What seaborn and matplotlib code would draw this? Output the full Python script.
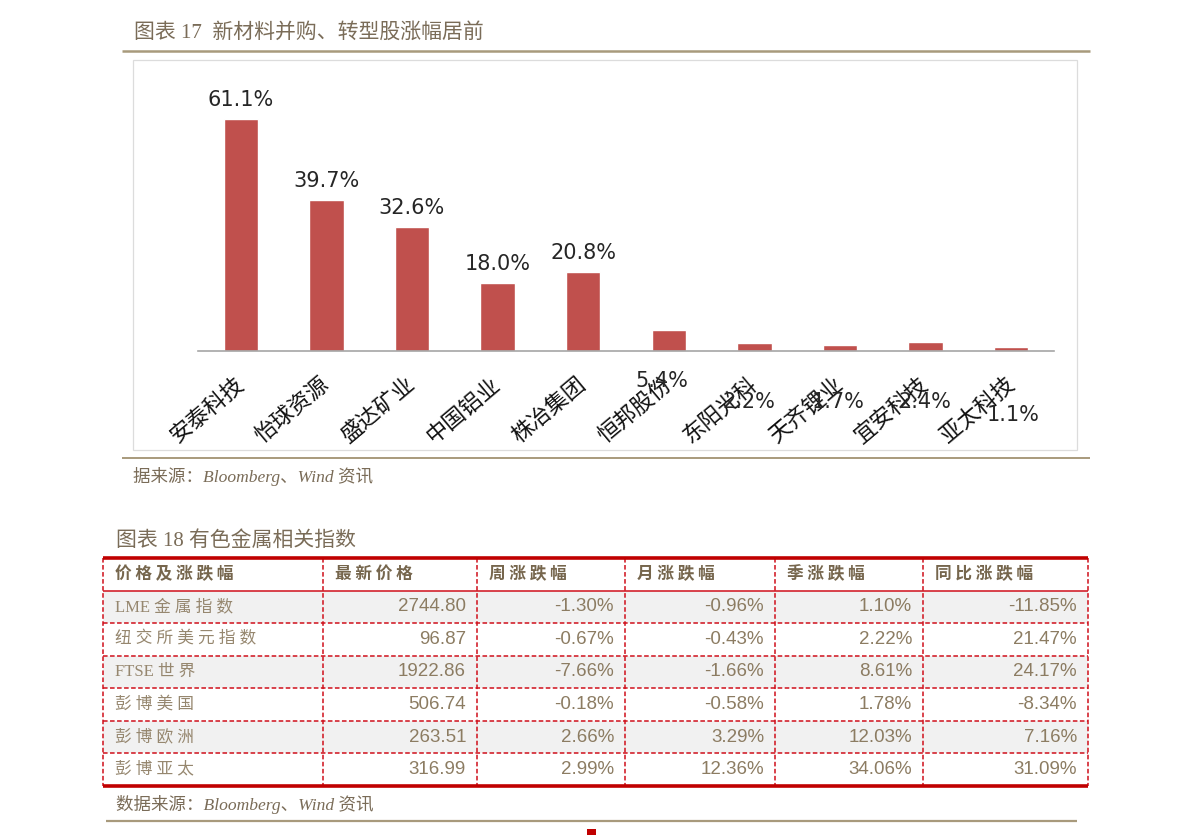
import numpy as np
import pandas as pd
import matplotlib
matplotlib.use("Agg")
import matplotlib.pyplot as plt
from matplotlib.patches import Rectangle
import seaborn as sns

W, H = 1191, 835

# 图表 17 data
stocks = ["安泰科技", "怡球资源", "盛达矿业", "中国铝业", "株冶集团",
          "恒邦股份", "东阳光科", "天齐锂业", "宜安科技", "亚太科技"]
gains = [61.1, 39.7, 32.6, 18.0, 20.8, 5.4, 2.2, 1.7, 2.4, 1.1]

# 图表 18 data
headers = ["价格及涨跌幅", "最新价格", "周涨跌幅", "月涨跌幅", "季涨跌幅", "同比涨跌幅"]
indices = ["LME 金属指数", "纽交所美元指数", "FTSE 世界", "彭博美国", "彭博欧洲", "彭博亚太"]
latest = [2744.80, 96.87, 1922.86, 506.74, 263.51, 316.99]
week_chg = [-1.30, -0.67, -7.66, -0.18, 2.66, 2.99]
month_chg = [-0.96, -0.43, -1.66, -0.58, 3.29, 12.36]
quarter_chg = [1.10, 2.22, 8.61, 1.78, 12.03, 34.06]
yoy_chg = [-11.85, 21.47, 24.17, -8.34, 7.16, 31.09]

# label offsets in pixels (the source chart has the small-bar labels pushed down)
label_offsets = [(0, 19), (0, 19), (0, 19), (0, 19), (0, 19),
                 (-7, -51), (-5, -59), (-2, -57), (-1, -60), (2, -68)]

sns.set_style("white")
CJK = ["Noto Sans CJK SC", "DejaVu Sans"]
SERIF = ["Liberation Serif", "Noto Sans CJK SC"]
plt.rcParams["font.family"] = CJK

BAR = "#C0504D"
TAN = "#a89a7c"
BROWN = "#7a6c58"
RED = "#d0101b"
TXT = "#8c7c62"


def px_rect(x0, y0, x1, y1):
    return [x0 / W, 1 - y1 / H, (x1 - x0) / W, (y1 - y0) / H]


def spaced(s):
    parts = s.split(" ")
    return " ".join(p if p.isascii() else " ".join(p) for p in parts)


fig = plt.figure(figsize=(W / 100, H / 100), dpi=100)

# page layer for titles, rules and notes
page = fig.add_axes([0, 0, 1, 1])
page.set_xlim(0, W)
page.set_ylim(H, 0)
page.axis("off")

page.text(134, 33, "图表 17  新材料并购、转型股涨幅居前", fontsize=15,
          color=BROWN, va="center", family=SERIF)
page.hlines(51, 122, 1090, color=TAN, lw=1.8)
page.add_patch(Rectangle((133, 60), 944, 390, fill=False, ec="#dcdcdc", lw=0.9))
page.hlines(458, 122, 1090, color=TAN, lw=1.4)
page.text(133, 476, "据来源：Bloomberg、Wind 资讯", fontsize=12.6, style="italic",
          color=BROWN, va="center", family=SERIF)

page.text(116, 541, "图表 18 有色金属相关指数", fontsize=15,
          color=BROWN, va="center", family=SERIF)
page.text(116, 805, "数据来源：Bloomberg、Wind 资讯", fontsize=12.6, style="italic",
          color=BROWN, va="center", family=SERIF)
page.hlines(821, 106, 1077, color=TAN, lw=1.6)
page.add_patch(Rectangle((587, 829), 9, 7, color="#c00000", lw=0))

# ---------------- bar chart ----------------
ax = fig.add_axes(px_rect(198, 80, 1054, 351))
ax.patch.set_alpha(0)
df = pd.DataFrame({"stock": stocks, "gain": gains})
sns.barplot(data=df, x="stock", y="gain", color=BAR, saturation=1,
            width=0.4, ax=ax)
ax.set_ylim(0, 271 / 3.8)
ax.set_xlim(-0.5, len(stocks) - 0.5)
sns.despine(ax=ax, left=True)
ax.spines["bottom"].set_color("#a6a6a6")
ax.spines["bottom"].set_linewidth(1.2)
ax.set_yticks([])
ax.set_xlabel("")
ax.set_ylabel("")
ax.set_xticks(range(len(stocks)))
ax.set_xticklabels(stocks, rotation=40, ha="right", va="center",
                   rotation_mode="anchor", fontsize=16, color="#111111")
ax.tick_params(axis="x", length=0, pad=22)

for i, (v, off) in enumerate(zip(gains, label_offsets)):
    ax.annotate(f"{v:.1f}%", xy=(i, v), xytext=off, textcoords="offset pixels",
                ha="center", va="center", fontsize=15, color="#262626",
                family="DejaVu Sans")

# ---------------- table ----------------
tab = fig.add_axes(px_rect(103, 558, 1088, 786))
tab.patch.set_alpha(0)
n_rows = len(indices) + 1
col_edges = [0, 220, 374, 522, 672, 820, 985]
tab.set_xlim(0, col_edges[-1])
tab.set_ylim(n_rows, 0)
tab.axis("off")

for r in range(1, n_rows, 2):
    tab.axhspan(r, r + 1, color="#f1f1f1", lw=0, zorder=0)

dash = (0, (3, 1.6))
for e in col_edges:
    tab.vlines(e, 0, n_rows, color=RED, lw=1.1, linestyles=[dash], clip_on=False)
for r in range(2, n_rows):
    tab.hlines(r, 0, col_edges[-1], color=RED, lw=1.1, linestyles=[dash], clip_on=False)
tab.hlines(1, 0, col_edges[-1], color=RED, lw=1.1, clip_on=False)
tab.hlines([0, n_rows], 0, col_edges[-1], color="#c00000", lw=2.6, clip_on=False)

for j, h in enumerate(headers):
    tab.text(col_edges[j] + 12, 0.5, spaced(h), ha="left", va="center",
             fontsize=12, color="#76664d", fontweight="bold")

columns = [latest, week_chg, month_chg, quarter_chg, yoy_chg]
for r, name in enumerate(indices):
    y = r + 1.5
    tab.text(12, y, spaced(name), ha="left", va="center", fontsize=12,
             color="#96876f", family=SERIF)
    for j, col in enumerate(columns):
        s = f"{col[r]:.2f}" if j == 0 else f"{col[r]:.2f}%"
        tab.text(col_edges[j + 2] - 11, y, s, ha="right", va="center",
                 fontsize=13.5, color=TXT, family="Liberation Sans")

fig.savefig("out.png", dpi=100)
